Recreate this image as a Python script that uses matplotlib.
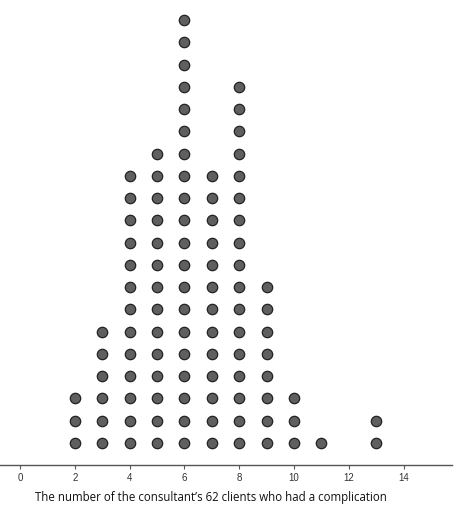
import matplotlib
matplotlib.use("Agg")
import matplotlib.pyplot as plt

values = [2, 3, 4, 5, 6, 7, 8, 9, 10, 11, 13]
counts = [3, 6, 13, 14, 20, 13, 17, 8, 3, 1, 2]
tick_values = [0, 2, 4, 6, 8, 10, 12, 14]
xlabel = "The number of the consultant\u2019s 62 clients who had a complication"

W, H = 474, 519
fig = plt.figure(figsize=(W / 100, H / 100), dpi=100)
ax = fig.add_axes([0, 1 - 465 / H, 452 / W, 465 / H])

xs, ys = [], []
for v, c in zip(values, counts):
    for k in range(1, c + 1):
        xs.append(v)
        ys.append(k)
ax.scatter(xs, ys, s=56, c="#5f5f5f", edgecolors="#222222", linewidths=0.9, zorder=3)

ax.set_xlim(-0.73, 15.77)
ax.set_ylim(0, 465 / 22.25)
for s in ["top", "left", "right"]:
    ax.spines[s].set_visible(False)
ax.spines["bottom"].set_color("#555555")
ax.spines["bottom"].set_linewidth(1.0)
ax.set_yticks([])
ax.set_xticks(tick_values)
ax.set_xticklabels([str(t) for t in tick_values], fontsize=7, color="#333333", family="Liberation Sans")
ax.tick_params(axis="x", length=3, width=0.8, color="#555555", pad=3)

fig.text(211 / W, 1 - 497 / H, xlabel, ha="center", va="center", fontsize=8.3,
         family="Open Sans", color="#111111")

fig.savefig("out.png", dpi=100, facecolor="white")
